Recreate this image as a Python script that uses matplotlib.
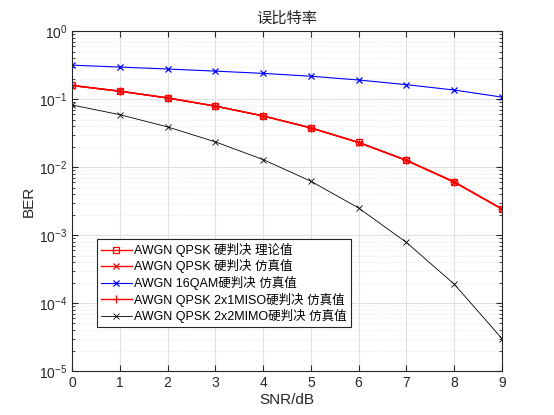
import numpy as np
import matplotlib.pyplot as plt
from matplotlib.ticker import LogLocator, NullFormatter

plt.rcParams['font.family'] = ['Liberation Sans', 'Noto Sans CJK SC', 'DejaVu Sans']

# data
snr_db = [0, 1, 2, 3, 4, 5, 6, 7, 8, 9]
qpsk_theory = [0.159, 0.131, 0.104, 0.0789, 0.0565, 0.0377, 0.0230, 0.0126, 0.0060, 0.00242]
qpsk_sim = [0.158, 0.131, 0.104, 0.0787, 0.0566, 0.0376, 0.0229, 0.0125, 0.0060, 0.00243]
qam16_sim = [0.316, 0.296, 0.277, 0.258, 0.239, 0.217, 0.191, 0.163, 0.136, 0.107]
miso_sim = [0.159, 0.130, 0.104, 0.0790, 0.0565, 0.0378, 0.0231, 0.0126, 0.0061, 0.00241]
mimo_sim = [0.082, 0.059, 0.039, 0.0235, 0.0129, 0.0062, 0.0025, 0.00078, 0.00019, 3.0e-5]

labels = ['AWGN QPSK 硬判决 理论值',
          'AWGN QPSK 硬判决 仿真值',
          'AWGN 16QAM硬判决 仿真值',
          'AWGN QPSK 2x1MISO硬判决 仿真值',
          'AWGN QPSK 2x2MIMO硬判决 仿真值']

fig = plt.figure(figsize=(5.54, 4.15), dpi=100)
ax = fig.add_axes([0.13, 0.106, 0.776, 0.819])

ax.semilogy(snr_db, qpsk_theory, 's-', color='#ff0000', lw=1.0, ms=5, mfc='none', mew=0.9, label=labels[0])
ax.semilogy(snr_db, qpsk_sim, 'x-', color='#ff0000', lw=1.0, ms=5, mew=0.9, label=labels[1])
ax.semilogy(snr_db, qam16_sim, 'x-', color='#0000ff', lw=0.8, ms=5, mew=0.9, label=labels[2])
ax.semilogy(snr_db, miso_sim, '+-', color='#ff0000', lw=1.0, ms=6, mew=0.9, label=labels[3])
ax.semilogy(snr_db, mimo_sim, 'x-', color='#000000', lw=0.6, ms=5, mew=0.6, label=labels[4])

ax.set_xlim(0, 9)
ax.set_ylim(1e-5, 1)
ax.set_xticks(snr_db)
ax.yaxis.set_major_locator(LogLocator(base=10, numticks=10))
ax.yaxis.set_minor_locator(LogLocator(base=10, subs=np.arange(2, 10), numticks=10))
ax.yaxis.set_minor_formatter(NullFormatter())

ax.grid(True, which='major', color='#e0e0e0', lw=0.8)
ax.grid(True, which='minor', color='#d0d0d0', lw=0.5, ls=(0, (1, 3)))
ax.tick_params(which='both', direction='in', top=True, right=True, labelsize=10, colors='#262626')
ax.tick_params(which='major', length=4)
ax.tick_params(which='minor', length=2)
for s in ax.spines.values():
    s.set_color('#262626')
    s.set_linewidth(0.8)

ax.set_title('误比特率', fontsize=11, color='#262626')
ax.set_xlabel('SNR/dB', fontsize=11, color='#262626', labelpad=2)
ax.set_ylabel('BER', fontsize=11, color='#262626', labelpad=2)

leg = ax.legend(loc='upper left', bbox_to_anchor=(0.058, 0.388), fontsize=9,
                frameon=True, fancybox=False, edgecolor='#262626', framealpha=1,
                handlelength=2.5, handletextpad=0.2, borderpad=0.3, labelspacing=0.2,
                borderaxespad=0)
leg.get_frame().set_linewidth(0.8)

fig.savefig('out.png', dpi=100)
